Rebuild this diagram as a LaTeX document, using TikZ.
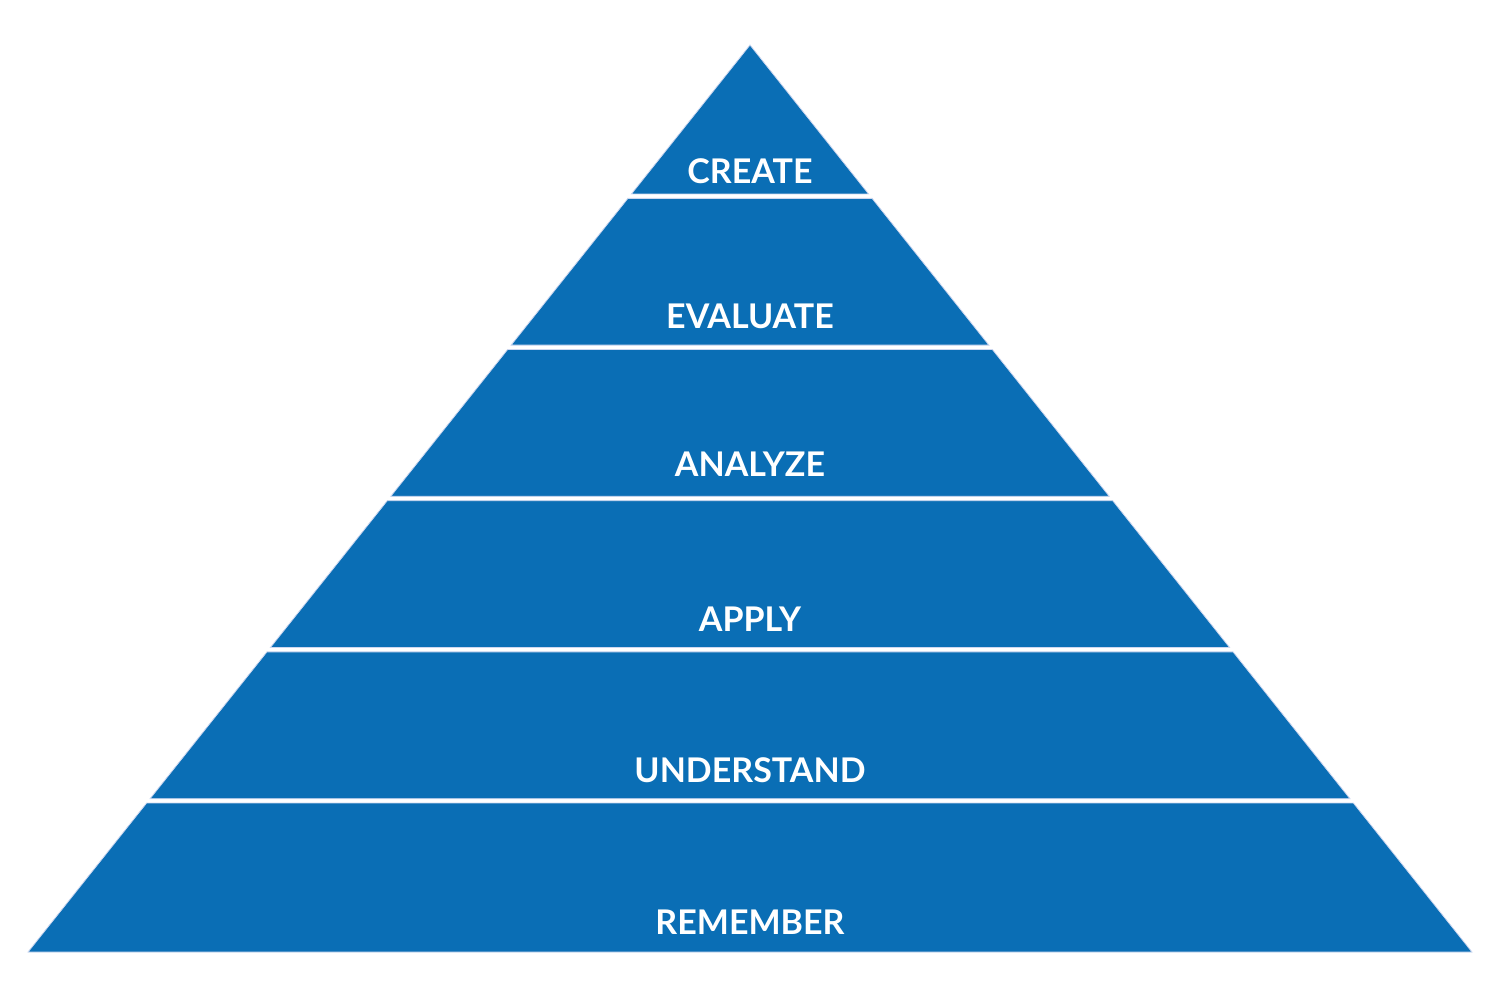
\documentclass[tikz,border=0pt]{standalone}
\usepackage{fontspec}
\setmainfont{Lato}
\definecolor{bandblue}{RGB}{10,110,181}
\definecolor{bandedge}{RGB}{205,215,240}
\tikzset{
  band/.style={fill=bandblue, draw=bandedge, line width=0.8pt},
  lbl/.style={text=white, font=\fontsize{34}{37}\selectfont\bfseries, inner sep=0pt, anchor=center}
}
\begin{document}
\begin{tikzpicture}[x=1pt,y=1pt]
\useasboundingbox (0,0) rectangle (1500,-1000);
\foreach \k in {0,...,5} {
  \pgfmathsetmacro\yt{45+151.17*\k + (\k>0)*2.2}
  \pgfmathsetmacro\yb{45+151.17*(\k+1) - (\k<5)*2.2}
  \pgfmathsetmacro\wt{(\yt-45)*0.796}
  \pgfmathsetmacro\wb{(\yb-45)*0.796}
  \path[band] (750-\wt,-\yt) -- (750+\wt,-\yt) -- (750+\wb,-\yb) -- (750-\wb,-\yb) -- cycle;
}
\node[lbl] (create)     at (750,-171.5) {CREATE};
\node[lbl] (evaluate)   at (750,-316.5) {EVALUATE};
\node[lbl] (analyze)    at (750,-464.5) {ANALYZE};
\node[lbl] (apply)      at (750,-619.5) {APPLY};
\node[lbl] (understand) at (750,-770.5) {UNDERSTAND};
\node[lbl] (remember)   at (750,-922.5) {REMEMBER};
\end{tikzpicture}
\end{document}
